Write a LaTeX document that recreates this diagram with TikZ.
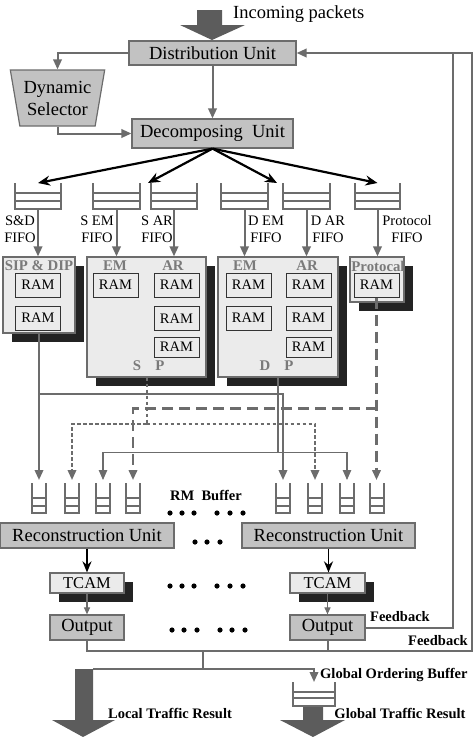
\documentclass[tikz,border=0pt]{standalone}
\usepackage{fontspec}
\setmainfont{Liberation Serif}
\usepackage{xcolor}
\usetikzlibrary{arrows.meta, positioning, calc, shapes.geometric, shadows}

\definecolor{linegray}{HTML}{6C6C6C}
\definecolor{unitfill}{HTML}{C2C2C2}
\definecolor{blockfill}{HTML}{EBEBEB}
\definecolor{titlegray}{HTML}{7A7A7A}
\definecolor{bigarrow}{HTML}{5C5C5C}
\definecolor{shade}{HTML}{232323}

\tikzset{
	unit/.style={draw=linegray, fill=unitfill, line width=1.2pt, inner sep=0pt, font=\fontsize{18.5}{20}\selectfont},
	block/.style={draw=linegray, fill=blockfill, line width=1.2pt, inner sep=0pt,
		drop shadow={shadow xshift=9pt, shadow yshift=-9pt, fill=shade, opacity=1}},
	ram/.style={draw=black!80, fill=blockfill, line width=1pt, minimum width=45pt, minimum height=24pt, inner sep=0pt, font=\fontsize{14.5}{16}\selectfont},
	title/.style={text=titlegray, inner sep=0pt, font=\fontsize{14.8}{16}\selectfont\bfseries},
	fifolbl/.style={align=center, inner sep=0pt, font=\fontsize{14.5}{17}\selectfont},
	boldlbl/.style={inner sep=0pt, font=\fontsize{14.5}{16}\selectfont\bfseries},
	bus/.style={draw=linegray, line width=2pt},
	sbus/.style={bus, dash pattern=on 3.5pt off 2.5pt},
	dbus/.style={bus, line width=2.2pt, dash pattern=on 11pt off 6pt},
	thinbus/.style={draw=linegray, line width=1.1pt},
	tobuf/.style={->, shorten >=3pt},
	qline/.style={draw=linegray, line width=2pt},
	fan/.style={->, draw=black, line width=2.2pt, >={Stealth[length=12pt,width=10pt]}},
	bigarr/.style={fill=bigarrow}
}

% name, left x, right x, top y, height
\newcommand{\hfifo}[5]{%
	\draw[qline] (#2,#4) -- (#2,#4+#5) -- (#3,#4+#5) -- (#3,#4)
		(#2,#4+0.4*#5) -- (#3,#4+0.4*#5) (#2,#4+0.68*#5) -- (#3,#4+0.68*#5);
	\coordinate (#1-in) at ({(#2+#3)/2},#4);
	\coordinate (#1-out) at ({(#2+#3)/2},#4+#5);}

% name, centre x
\newcommand{\rmbuf}[2]{%
	\draw[qline] (#2-7,483) -- (#2-7,513) -- (#2+7,513) -- (#2+7,483)
		(#2-7,498) -- (#2+7,498) (#2-7,506) -- (#2+7,506);
	\coordinate (#1) at (#2,483);}

\begin{document}
\begin{tikzpicture}[x=1pt, y=-1pt,
				>={Triangle[length=10pt,width=8.5pt]}]
				\useasboundingbox (0,0) rectangle (474,737);

				\fill[bigarr] (197,10) -- (222,10) -- (222,25) -- (245,25) -- (212,40) -- (180,25) -- (197,25) -- cycle;
				\node[anchor=west, inner sep=0pt, font=\fontsize{18.5}{20}\selectfont] (inlbl) at (233,14) {Incoming packets};

				\node[unit, minimum width=167pt, minimum height=24pt] (dist) at (212.5,53) {Distribution Unit};
				\node[unit, trapezium, trapezium angle=76, shape border rotate=180, trapezium stretches=true,
					minimum width=95pt, minimum height=56pt, align=center, font=\fontsize{18.5}{22}\selectfont] (dyn) at (57.5,98) {Dynamic\\Selector};
				\node[unit, minimum width=161pt, minimum height=29pt] (dec) at (212.5,133.5) {Decomposing\ \ Unit};

				\draw[bus, ->] (dist.west) -| (dyn.north);
				\draw[bus, ->] (dist.south) -- (dec.north);
				\draw[bus, ->] (dyn.south) |- (dec.west);

				\hfifo{sd}{15}{61}{183}{26}
				\hfifo{sem}{93}{140}{183}{26}
				\hfifo{sar}{151}{197}{183}{26}
				\hfifo{dem}{221}{268}{183}{26}
				\hfifo{dar}{283}{330}{183}{26}
				\hfifo{pf}{355}{400}{183}{26}
				\coordinate (spair) at (148,183);
				\coordinate (dpair) at (277,183);

				\draw[fan] (dec.south) -- (sd-in);
				\draw[fan] (dec.south) -- (spair);
				\draw[fan] (dec.south) -- (dpair);
				\draw[fan] (dec.south) -- (pf-in);

				\node[fifolbl] (sdlbl) at (20,229) {S\&D\\FIFO};
				\node[fifolbl] (semlbl) at (97,229) {S EM\\FIFO};
				\node[fifolbl] (sarlbl) at (157,229) {S AR\\FIFO};
				\node[fifolbl] (demlbl) at (266,229) {D EM\\FIFO};
				\node[fifolbl] (darlbl) at (328,229) {D AR\\FIFO};
				\node[fifolbl] (pflbl) at (407,229) {Protocol\\FIFO};

				\node[block, minimum width=72pt, minimum height=76pt] (sip) at (39,295) {};
				\node[block, minimum width=119pt, minimum height=120pt] (sblk) at (146.5,317) {};
				\node[block, minimum width=120pt, minimum height=120pt] (dblk) at (278,317) {};
				\node[block, minimum width=54pt, minimum height=45pt] (pblk) at (377,279.5) {};

				\draw[bus, ->] (sd-out) -- (sd-out |- sip.north);
				\draw[bus, ->] (sem-out) -- (sem-out |- sblk.north);
				\draw[bus, ->] (sar-out) -- (sar-out |- sblk.north);
				\draw[bus, ->] (dem-out) -- (dem-out |- dblk.north);
				\draw[bus, ->] (dar-out) -- (dar-out |- dblk.north);
				\draw[bus, ->] (pf-out) -- (pf-out |- pblk.north);

				\node[title] (siptl) at (39,266) {SIP \& DIP};
				\node[title] (semtl) at (115,266) {EM};
				\node[title] (sartl) at (173,266) {AR};
				\node[title] (demtl) at (245,266) {EM};
				\node[title] (dartl) at (307,266) {AR};
				\node[title] (ptl) at (378,266) {Protocal};
				\node[title] (stl) at (137,366) {S};
				\node[title] (sptl) at (160,366) {P};
				\node[title] (dtl) at (265,366) {D};
				\node[title] (dptl) at (289,366) {P};

				\node[ram] (sr1) at (38,285) {RAM};
				\node[ram] (sr2) at (38,318) {RAM};
				\node[ram] (sem1) at (115.5,285) {RAM};
				\node[ram] (sar1) at (176.5,285) {RAM};
				\node[ram] (sar2) at (176.5,318.5) {RAM};
				\node[ram, minimum height=20pt] (sar3) at (176.5,347) {RAM};
				\node[ram] (dem1) at (248.5,285) {RAM};
				\node[ram] (dem2) at (248.5,318) {RAM};
				\node[ram] (dar1) at (308.5,285) {RAM};
				\node[ram] (dar2) at (308.5,318) {RAM};
				\node[ram, minimum height=20pt] (dar3) at (308.5,347) {RAM};
				\node[ram] (pram) at (376.5,285) {RAM};

				\rmbuf{l1}{39}
				\rmbuf{l2}{72}
				\rmbuf{l3}{103}
				\rmbuf{l4}{133}
				\rmbuf{r1}{283}
				\rmbuf{r2}{315}
				\rmbuf{r3}{347}
				\rmbuf{r4}{377}

				\draw[bus, tobuf] (sip.south) -- (sip.south |- l1);
				\draw[bus, tobuf] ($(sip.south)+(0,60)$) -| (r1);
				\draw[sbus] (sblk.south) -- ++(0,46) coordinate (sj);
				\draw[sbus, tobuf] (sj) -| (l2);
				\draw[sbus, tobuf] (sj) -| (r2);
				\draw[thinbus] (dblk.south) -- ++(0,75) coordinate (dj);
				\draw[thinbus, tobuf] (dj) -| (l3);
				\draw[thinbus, tobuf] (dj) -| (r3);
				\draw[dbus, tobuf] (pram.south) -- (pram.south |- r4);
				\draw[dbus, tobuf] ($(pram.south)+(0,111)$) -| (l4);

				\node[boldlbl] (rmlbl) at (206,495) {RM\ \ Buffer};
				\foreach \x in {170,182,194,217,230,243} {
					\fill (\x,513) circle (2.6pt);
					\fill (\x,586) circle (2.6pt);
				}
				\foreach \x in {195,207,220}
					\fill (\x,542) circle (2.6pt);
				\foreach \x in {172,184,197,220,232,245}
					\fill (\x,630) circle (2.6pt);

				\node[unit, minimum width=174pt, minimum height=25pt] (lru) at (87,535.5) {Reconstruction Unit};
				\node[unit, minimum width=173pt, minimum height=25pt] (rru) at (328.5,535.5) {Reconstruction Unit};
				\node[block, minimum width=74pt, minimum height=20pt, font=\fontsize{16.5}{18}\selectfont] (ltc) at (87,583) {TCAM};
				\node[block, minimum width=75pt, minimum height=20pt, font=\fontsize{16.5}{18}\selectfont] (rtc) at (327.5,583) {TCAM};
				\node[unit, minimum width=74pt, minimum height=25pt] (lout) at (87,627.5) {Output};
				\node[unit, minimum width=75pt, minimum height=25pt] (rout) at (327.5,627.5) {Output};

				\draw[fan, line width=1.8pt, >={Stealth[length=11pt,width=9pt]}] (lru.south) -- (lru.south |- ltc.north);
				\draw[fan, line width=1.8pt, >={Stealth[length=11pt,width=9pt]}] (rru.south) -- (rru.south |- rtc.north);
				\draw[thinbus, ->, >={Triangle[length=7pt,width=6pt]}] (ltc.south) -- (lout.north);
				\draw[thinbus, ->, >={Triangle[length=7pt,width=6pt]}] (rtc.south) -- (rout.north);

				\draw[bus] (rout.east) -| ($(dist.east)+(156,0)$);
				\draw[bus, ->] (lout.south) |- ++(385,10) |- (dist.east);
				\draw[bus] (rout.south) -- ++(0,10);
				\node[boldlbl] (fb1) at (400,617) {Feedback};
				\node[boldlbl] (fb2) at (438,641) {Feedback};

				\hfifo{gob}{293}{335}{682}{24}
				\coordinate (mg) at (203,650);
				\draw[bus] (mg) -- ++(0,19) coordinate (mg2);
				\draw[bus] (mg2) -- (93,669);
				\draw[bus, ->] (mg2) -| (gob-in);
				\node[boldlbl, anchor=west] (goblbl) at (320,675) {Global Ordering Buffer};

				\fill[bigarr] (75,669) -- (93,669) -- (93,720) -- (115,720) -- (83,737) -- (52,720) -- (75,720) -- cycle;
				\fill[bigarr] (303,707) -- (323,707) -- (323,720) -- (345,720) -- (313,737) -- (280,720) -- (303,720) -- cycle;
				\node[boldlbl] (llbl) at (170,713) {Local Traffic Result};
				\node[boldlbl] (glbl) at (400,713) {Global Traffic Result};
			\end{tikzpicture}
\end{document}
